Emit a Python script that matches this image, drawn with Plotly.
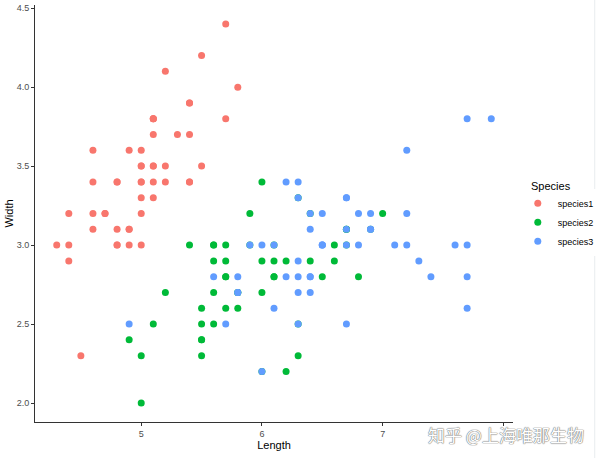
import plotly.graph_objects as go

# iris sepal measurements, grouped by species
species1_length = [5.1, 4.9, 4.7, 4.6, 5.0, 5.4, 4.6, 5.0, 4.4, 4.9, 5.4, 4.8, 4.8, 4.3, 5.8, 5.7, 5.4, 5.1, 5.7, 5.1,
                   5.4, 5.1, 4.6, 5.1, 4.8, 5.0, 5.0, 5.2, 5.2, 4.7, 4.8, 5.4, 5.2, 5.5, 4.9, 5.0, 5.5, 4.9, 4.4, 5.1,
                   5.0, 4.5, 4.4, 5.0, 5.1, 4.8, 5.1, 4.6, 5.3, 5.0]
species1_width = [3.5, 3.0, 3.2, 3.1, 3.6, 3.9, 3.4, 3.4, 2.9, 3.1, 3.7, 3.4, 3.0, 3.0, 4.0, 4.4, 3.9, 3.5, 3.8, 3.8,
                  3.4, 3.7, 3.6, 3.3, 3.4, 3.0, 3.4, 3.5, 3.4, 3.2, 3.1, 3.4, 4.1, 4.2, 3.1, 3.2, 3.5, 3.6, 3.0, 3.4,
                  3.5, 2.3, 3.2, 3.5, 3.8, 3.0, 3.8, 3.2, 3.7, 3.3]
species2_length = [7.0, 6.4, 6.9, 5.5, 6.5, 5.7, 6.3, 4.9, 6.6, 5.2, 5.0, 5.9, 6.0, 6.1, 5.6, 6.7, 5.6, 5.8, 6.2, 5.6,
                   5.9, 6.1, 6.3, 6.1, 6.4, 6.6, 6.8, 6.7, 6.0, 5.7, 5.5, 5.5, 5.8, 6.0, 5.4, 6.0, 6.7, 6.3, 5.6, 5.5,
                   5.5, 6.1, 5.8, 5.0, 5.6, 5.7, 5.7, 6.2, 5.1, 5.7]
species2_width = [3.2, 3.2, 3.1, 2.3, 2.8, 2.8, 3.3, 2.4, 2.9, 2.7, 2.0, 3.0, 2.2, 2.9, 2.9, 3.1, 3.0, 2.7, 2.2, 2.5,
                  3.2, 2.8, 2.5, 2.8, 2.9, 3.0, 2.8, 3.0, 2.9, 2.6, 2.4, 2.4, 2.7, 2.7, 3.0, 3.4, 3.1, 2.3, 3.0, 2.5,
                  2.6, 3.0, 2.6, 2.3, 2.7, 3.0, 2.9, 2.9, 2.5, 2.8]
species3_length = [6.3, 5.8, 7.1, 6.3, 6.5, 7.6, 4.9, 7.3, 6.7, 7.2, 6.5, 6.4, 6.8, 5.7, 5.8, 6.4, 6.5, 7.7, 7.7, 6.0,
                   6.9, 5.6, 7.7, 6.3, 6.7, 7.2, 6.2, 6.1, 6.4, 7.2, 7.4, 7.9, 6.4, 6.3, 6.1, 7.7, 6.3, 6.4, 6.0, 6.9,
                   6.7, 6.9, 5.8, 6.8, 6.7, 6.7, 6.3, 6.5, 6.2, 5.9]
species3_width = [3.3, 2.7, 3.0, 2.9, 3.0, 3.0, 2.5, 2.9, 2.5, 3.6, 3.2, 2.7, 3.0, 2.5, 2.8, 3.2, 3.0, 3.8, 2.6, 2.2,
                  3.2, 2.8, 2.8, 2.7, 3.3, 3.2, 2.8, 3.0, 2.8, 3.0, 2.8, 3.8, 2.8, 2.8, 2.6, 3.0, 3.4, 3.1, 3.0, 3.1,
                  3.1, 3.1, 2.7, 3.2, 3.3, 3.0, 2.5, 3.0, 3.4, 3.0]

names = ["species1", "species2", "species3"]
colors = ["#F8766D", "#00BA38", "#619CFF"]
xs = [species1_length, species2_length, species3_length]
ys = [species1_width, species2_width, species3_width]
x_ticks = [5, 6, 7, 8]
x_ticktext = ["5", "6", "7", ""]  # the "8" label sits under the watermark in the original

fig = go.Figure()
for name, col, x, y in zip(names, colors, xs, ys):
    fig.add_trace(go.Scatter(x=x, y=y, mode="markers", name=name,
                             marker=dict(color=col, size=7, line=dict(width=0))))

axis_style = dict(showgrid=False, zeroline=False, showline=True, linecolor="#333333", linewidth=1,
                  ticks="outside", ticklen=3, tickcolor="#333333", automargin=False,
                  tickfont=dict(size=9, color="#4D4D4D"))

fig.update_layout(
    width=600, height=458,
    paper_bgcolor="white", plot_bgcolor="white",
    font=dict(family="Liberation Sans, Arial, sans-serif"),
    margin=dict(l=35, r=87, t=5, b=36),
    xaxis=dict(range=[4.12, 8.08], tickvals=x_ticks, ticktext=x_ticktext,
               title=dict(text="Length", font=dict(size=11, color="black"), standoff=1), **axis_style),
    yaxis=dict(range=[1.88, 4.52], tickvals=[2.0, 2.5, 3.0, 3.5, 4.0, 4.5], tickformat=".1f",
               title=dict(text="Width", font=dict(size=11, color="black"), standoff=0), **axis_style),
    legend=dict(xref="container", yref="container", x=0.863, y=0.515, xanchor="left", yanchor="middle",
                tracegroupgap=0, font=dict(size=9, color="black")),
    annotations=[
        dict(text="Species", x=529, y=458 - 186, xref="paper", yref="paper", showarrow=False,
             font=dict(size=11, color="black"), xanchor="left", yanchor="middle"),
        dict(text="知乎 @上海唯那生物", x=1.153, y=-0.03, xref="paper", yref="paper",
             xanchor="right", yanchor="middle", showarrow=False,
             font=dict(family="Noto Sans CJK SC", size=17, color="white",
                       shadow="0 0 1px #777, 0 0 1px #777, 0 0 1px #999")),
    ],
    shapes=[
        dict(type="line", xref="paper", yref="paper", x0=1.171, x1=1.171, y0=-0.09, y1=1.02,
             line=dict(color="#E8ECEF", width=1)),
        dict(type="rect", xref="paper", yref="paper", x0=-0.08, x1=1.19, y0=-0.095, y1=-0.088,
             line=dict(width=0), fillcolor="#EDF0F2"),
    ],
)

# legend title placed in pixel terms relative to the plot area
fig.layout.annotations[0].x = (529 - 35) / 478
fig.layout.annotations[0].y = (422 - 186) / 417

fig.write_html("out.html", config={"displayModeBar": False},
               post_script="document.body.style.margin='0';")
